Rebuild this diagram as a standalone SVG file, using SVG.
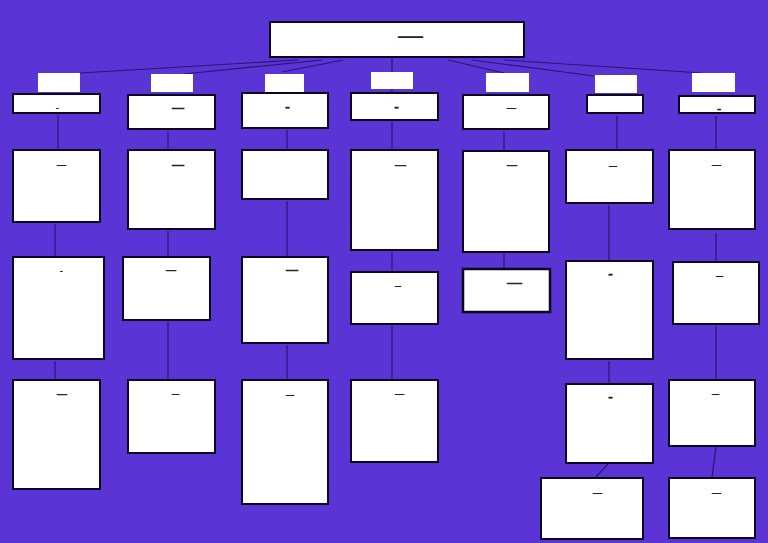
<svg xmlns="http://www.w3.org/2000/svg" width="768" height="543" viewBox="0 0 768 543">
<style>
.bg{fill:#5b34d6}
.n{fill:#ffffff;stroke:#0a0620;stroke-width:2}
.h{fill:#ffffff;stroke:none}
.c{stroke:#2a1670;stroke-width:1.2;fill:none}
.t{font-family:"Liberation Sans",Arial,sans-serif;fill:#222222;stroke:#222222;stroke-width:0.5}
</style>
<rect class="bg" x="0" y="0" width="768" height="543"/>
<g id="connectors">
<line class="c" x1="298" y1="60" x2="80" y2="73"/>
<line class="c" x1="322" y1="60" x2="184" y2="74"/>
<line class="c" x1="343" y1="60" x2="282" y2="72"/>
<line class="c" x1="392" y1="57" x2="392" y2="93"/>
<line class="c" x1="448" y1="60" x2="504" y2="73"/>
<line class="c" x1="472" y1="60" x2="594" y2="76"/>
<line class="c" x1="504" y1="60" x2="702" y2="73"/>
<line class="c" x1="58" y1="115" x2="58" y2="149"/>
<line class="c" x1="168" y1="131" x2="168" y2="149"/>
<line class="c" x1="287" y1="130" x2="287" y2="149"/>
<line class="c" x1="392" y1="122" x2="392" y2="149"/>
<line class="c" x1="504" y1="131" x2="504" y2="150"/>
<line class="c" x1="617" y1="116" x2="617" y2="149"/>
<line class="c" x1="716" y1="116" x2="716" y2="149"/>
<line class="c" x1="55" y1="224" x2="55" y2="256"/>
<line class="c" x1="168" y1="231" x2="168" y2="256"/>
<line class="c" x1="287" y1="201" x2="287" y2="256"/>
<line class="c" x1="392" y1="252" x2="392" y2="271"/>
<line class="c" x1="504" y1="254" x2="504" y2="268"/>
<line class="c" x1="609" y1="205" x2="609" y2="260"/>
<line class="c" x1="716" y1="233" x2="716" y2="261"/>
<line class="c" x1="55" y1="361" x2="55" y2="379"/>
<line class="c" x1="168" y1="322" x2="168" y2="379"/>
<line class="c" x1="287" y1="345" x2="287" y2="379"/>
<line class="c" x1="392" y1="326" x2="392" y2="379"/>
<line class="c" x1="609" y1="361" x2="609" y2="383"/>
<line class="c" x1="716" y1="326" x2="716" y2="379"/>
<line class="c" x1="608" y1="464" x2="596" y2="477"/>
<line class="c" x1="716" y1="447" x2="712" y2="477"/>
</g>
<g id="root"><rect class="n" x="270" y="22" width="254" height="35"/><text class="t" x="398" y="44" font-size="25" style="stroke-width:0.2">—</text></g>
<g id="h1"><rect class="h" x="38" y="73" width="42" height="19"/></g>
<g id="h2"><rect class="h" x="151" y="74" width="42" height="18"/></g>
<g id="h3"><rect class="h" x="265" y="74" width="39" height="19"/></g>
<g id="h4"><rect class="h" x="371" y="72" width="42" height="17"/></g>
<g id="h5"><rect class="h" x="486" y="73" width="43" height="19"/></g>
<g id="h6"><rect class="h" x="595" y="75" width="42" height="18"/></g>
<g id="h7"><rect class="h" x="692" y="73" width="43" height="19"/></g>
<g id="a1"><rect class="n" x="13" y="94" width="87" height="19"/><text class="t" x="56" y="110" font-size="8">-</text></g>
<g id="a2"><rect class="n" x="128" y="95" width="87" height="34"/><text class="t" x="172" y="112" font-size="12">—</text></g>
<g id="a3"><rect class="n" x="242" y="93" width="86" height="35"/><text class="t" x="285" y="112" font-size="15">-</text></g>
<g id="a4"><rect class="n" x="351" y="93" width="87" height="27"/><text class="t" x="394" y="112" font-size="15">-</text></g>
<g id="a5"><rect class="n" x="463" y="95" width="86" height="34"/><text class="t" x="507" y="111" font-size="9">—</text></g>
<g id="a6"><rect class="n" x="587" y="95" width="56" height="18"/></g>
<g id="a7"><rect class="n" x="679" y="96" width="76" height="17"/><text class="t" x="717" y="113" font-size="13">-</text></g>
<g id="b1"><rect class="n" x="13" y="150" width="87" height="72"/><text class="t" x="57" y="168" font-size="9">—</text></g>
<g id="b2"><rect class="n" x="128" y="150" width="87" height="79"/><text class="t" x="172" y="169" font-size="12">—</text></g>
<g id="b3"><rect class="n" x="242" y="150" width="86" height="49"/></g>
<g id="b4"><rect class="n" x="351" y="150" width="87" height="100"/><text class="t" x="395" y="168" font-size="11">—</text></g>
<g id="b5"><rect class="n" x="463" y="151" width="86" height="101"/><text class="t" x="507" y="168" font-size="10">—</text></g>
<g id="b6"><rect class="n" x="566" y="150" width="87" height="53"/><text class="t" x="609" y="168" font-size="8">—</text></g>
<g id="b7"><rect class="n" x="669" y="150" width="86" height="79"/><text class="t" x="712" y="168" font-size="9">—</text></g>
<g id="c1"><rect class="n" x="13" y="257" width="91" height="102"/><text class="t" x="60" y="273" font-size="8">-</text></g>
<g id="c2"><rect class="n" x="123" y="257" width="87" height="63"/><text class="t" x="166" y="273" font-size="10">—</text></g>
<g id="c3"><rect class="n" x="242" y="257" width="86" height="86"/><text class="t" x="286" y="274" font-size="12">—</text></g>
<g id="c4"><rect class="n" x="351" y="272" width="87" height="52"/><text class="t" x="395" y="288" font-size="6">—</text></g>
<g id="c5"><rect class="n" x="463" y="269" width="87" height="43" style="stroke-width:2.5"/><text class="t" x="507" y="287" font-size="15" style="stroke-width:0.3">—</text></g>
<g id="c6"><rect class="n" x="566" y="261" width="87" height="98"/><text class="t" x="608" y="279" font-size="15">-</text></g>
<g id="c7"><rect class="n" x="673" y="262" width="86" height="62"/><text class="t" x="716" y="278" font-size="7">—</text></g>
<g id="d1"><rect class="n" x="13" y="380" width="87" height="109"/><text class="t" x="57" y="397" font-size="10">—</text></g>
<g id="d2"><rect class="n" x="128" y="380" width="87" height="73"/><text class="t" x="172" y="396" font-size="7">—</text></g>
<g id="d3"><rect class="n" x="242" y="380" width="86" height="124"/><text class="t" x="286" y="397" font-size="8">—</text></g>
<g id="d4"><rect class="n" x="351" y="380" width="87" height="82"/><text class="t" x="395" y="397" font-size="9">—</text></g>
<g id="d6"><rect class="n" x="566" y="384" width="87" height="79"/><text class="t" x="608" y="402" font-size="15">-</text></g>
<g id="d7"><rect class="n" x="669" y="380" width="86" height="66"/><text class="t" x="712" y="396" font-size="7">—</text></g>
<g id="e6"><rect class="n" x="541" y="478" width="102" height="61"/><text class="t" x="593" y="496" font-size="9">—</text></g>
<g id="e7"><rect class="n" x="669" y="478" width="86" height="60"/><text class="t" x="712" y="496" font-size="9">—</text></g>
</svg>
